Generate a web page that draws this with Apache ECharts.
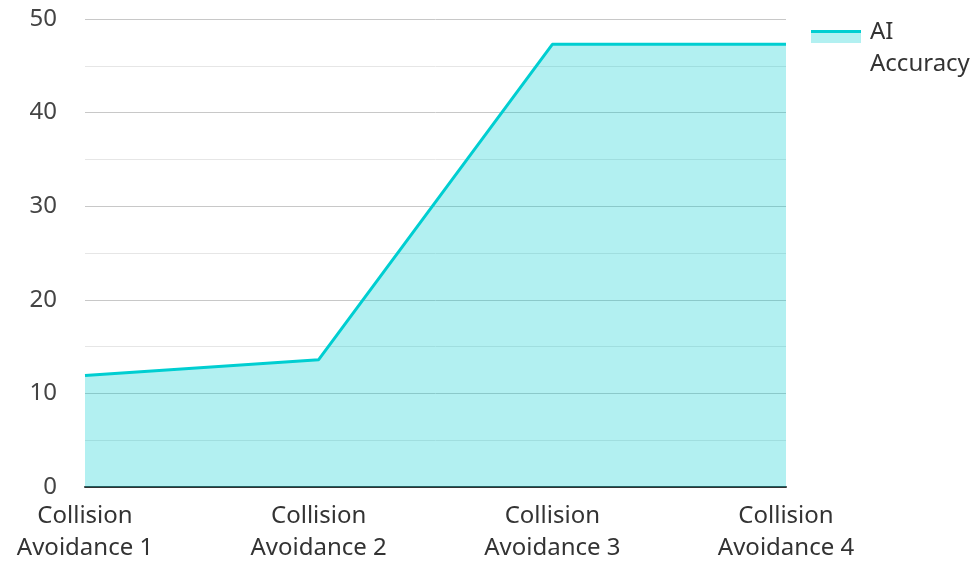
<!DOCTYPE html>
<html>
<head>
<meta charset="utf-8">
<script src="https://cdn.jsdelivr.net/npm/echarts@6/dist/echarts.min.js"></script>
<style>html,body{margin:0;padding:0;background:#fff}#c{width:976px;height:561px}</style>
</head>
<body>
<div id="c"></div>
<script>
var categories = ['Collision Avoidance 1', 'Collision Avoidance 2', 'Collision Avoidance 3', 'Collision Avoidance 4'];
var seriesName = 'AI Accuracy';
var accuracy = [11.9, 13.6, 47.3, 47.3];

var chart = echarts.init(document.getElementById('c'));
var font = 'Noto Sans';
chart.setOption({
  animation: false,
  textStyle: { fontFamily: font },
  grid: { left: 85, right: 190, top: 19, bottom: 74, containLabel: false, outerBoundsMode: 'none' },
  legend: {
    data: [seriesName],
    left: 806,
    top: 11,
    orient: 'vertical',
    icon: 'rect',
    itemWidth: 50,
    itemHeight: 36,
    formatter: function (n) { return n.replace(' ', '\n'); },
    itemStyle: {
      color: {
        type: 'linear', x: 0, y: 0, x2: 0, y2: 1,
        colorStops: [
          { offset: 0, color: '#00CED1' },
          { offset: 0.085, color: '#00CED1' },
          { offset: 0.085, color: '#b2f0f1' },
          { offset: 0.36, color: '#b2f0f1' },
          { offset: 0.36, color: 'rgba(255,255,255,0)' },
          { offset: 1, color: 'rgba(255,255,255,0)' }
        ]
      }
    },
    textStyle: { fontFamily: font, fontSize: 24, color: '#333', lineHeight: 32, padding: [0, 0, 0, 4] }
  },
  xAxis: {
    type: 'category',
    data: categories,
    boundaryGap: false,
    axisLine: { lineStyle: { color: '#333', width: 2 } },
    axisTick: { show: false },
    axisLabel: {
      fontFamily: font, fontSize: 24, color: '#333', lineHeight: 32, margin: 13,
      formatter: function (v) { return v.replace(' ', '\n'); }
    }
  },
  yAxis: {
    type: 'value',
    min: 0, max: 50, interval: 10,
    axisLine: { show: false },
    axisTick: { show: false },
    axisLabel: { fontFamily: font, fontSize: 24, color: '#444', margin: 28 },
    splitLine: { lineStyle: { color: '#c8c8c8', width: 1 } },
    minorTick: { show: false, splitNumber: 2 },
    minorSplitLine: { show: true, lineStyle: { color: '#e6e6e6', width: 1 } }
  },
  series: [{
    name: seriesName,
    type: 'line',
    data: accuracy,
    symbol: 'none',
    lineStyle: { color: '#00CED1', width: 3 },
    itemStyle: { color: '#00CED1' },
    areaStyle: { color: '#00CED1', opacity: 0.3 }
  }]
});
</script>
</body>
</html>
